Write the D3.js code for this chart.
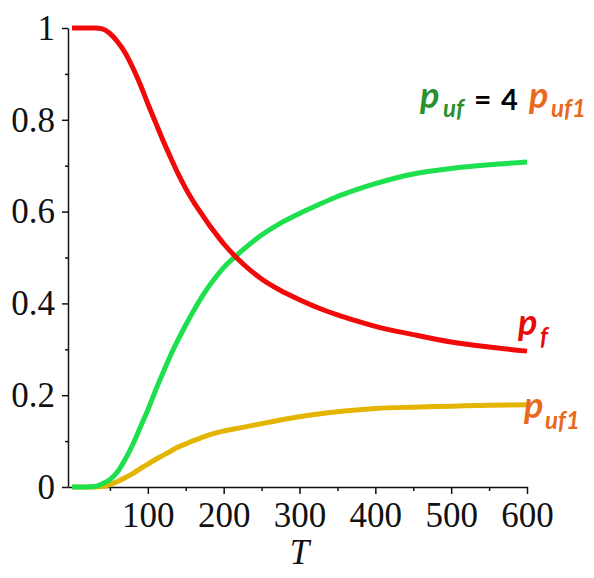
<!DOCTYPE html>
<html>
<head>
<meta charset="utf-8">
<script src="https://cdn.jsdelivr.net/npm/d3@7"></script>
<style>
  body { margin: 0; background: #fff; }
  svg { display: block; }
</style>
</head>
<body>
<svg id="chart" width="594" height="578"></svg>
<script>
// values
const tValues = [0, 10, 20, 30, 40, 50, 60, 70, 80, 90, 100, 110, 120, 130, 140, 150, 160, 170, 180, 190, 200,
                 225, 250, 275, 300, 325, 350, 375, 400, 450, 500, 550, 600];
const pf = [1, 1, 1, 1, 0.998, 0.988, 0.97, 0.946, 0.914, 0.877, 0.835, 0.795, 0.755, 0.718, 0.682, 0.65,
            0.622, 0.597, 0.573, 0.551, 0.53, 0.487, 0.453, 0.428, 0.408, 0.39, 0.375, 0.362, 0.35,
            0.332, 0.316, 0.305, 0.296];
const puf = [0, 0, 0, 0.001, 0.007, 0.016, 0.033, 0.06, 0.092, 0.13, 0.168, 0.21, 0.249, 0.287, 0.321, 0.353,
             0.383, 0.411, 0.436, 0.458, 0.478, 0.516, 0.549, 0.575, 0.596, 0.615, 0.633, 0.648, 0.661,
             0.682, 0.694, 0.702, 0.708];
const puf1 = [0, 0, 0, 0, 0.001, 0.005, 0.012, 0.02, 0.029, 0.04, 0.05, 0.06, 0.069, 0.078, 0.087, 0.094,
              0.101, 0.107, 0.113, 0.118, 0.122, 0.13, 0.138, 0.146, 0.153, 0.159, 0.164, 0.168, 0.171,
              0.174, 0.176, 0.178, 0.179];
const xMajor = [100, 200, 300, 400, 500, 600];
const xMinor = [50, 150, 250, 350, 450, 550];
const yMajor = [0, 0.2, 0.4, 0.6, 0.8, 1];
const yMinor = [0.1, 0.3, 0.5, 0.7, 0.9];

const svg = d3.select("#chart");

const x = d3.scaleLinear().domain([-5.3, 600]).range([68, 527]);
const y = d3.scaleLinear().domain([0, 1]).range([487, 28]);

// axes
const serif = "'Liberation Serif', 'DejaVu Serif', serif";

svg.append("g")
  .attr("transform", `translate(${x(-5.3)},0)`)
  .call(d3.axisLeft(y).tickValues(yMajor).tickFormat(d3.format("")).tickSize(6).tickSizeOuter(0).tickPadding(7));
svg.append("g")
  .attr("transform", `translate(${x(-5.3)},0)`)
  .call(d3.axisLeft(y).tickValues(yMinor).tickFormat("").tickSize(3).tickSizeOuter(0))
  .select(".domain").remove();

svg.append("g")
  .attr("transform", `translate(0,${y(0)})`)
  .call(d3.axisBottom(x).tickValues(xMajor).tickSize(7).tickSizeOuter(0).tickPadding(8));
svg.append("g")
  .attr("transform", `translate(0,${y(0)})`)
  .call(d3.axisBottom(x).tickValues(xMinor).tickFormat("").tickSize(4).tickSizeOuter(0))
  .select(".domain").remove();

svg.selectAll(".tick text")
  .attr("font-family", serif)
  .attr("font-size", 35)
  .attr("fill", "#111");
svg.selectAll(".domain, .tick line")
  .attr("stroke", "#111")
  .attr("stroke-width", 1.5);

svg.append("text")
  .text("T")
  .attr("x", x(300))
  .attr("y", 564)
  .attr("text-anchor", "middle")
  .attr("font-family", serif)
  .attr("font-style", "italic")
  .attr("font-size", 35)
  .attr("fill", "#111");

// curves
const line = d3.line()
  .x((d, i) => x(tValues[i]))
  .y(d => y(d))
  .curve(d3.curveMonotoneX);

const series = [
  { values: puf1, color: "#e3b400" },
  { values: puf, color: "#1ee04e" },
  { values: pf, color: "#f00a0a" }
];

svg.selectAll(".curve")
  .data(series)
  .enter().append("path")
  .attr("class", "curve")
  .attr("d", d => line(d.values))
  .attr("fill", "none")
  .attr("stroke", d => d.color)
  .attr("stroke-width", 5);

// labels, each piece placed on its own
const sans = "Lato, 'Open Sans', sans-serif";
const green = "#2a9030", orange = "#ea6a1c", red = "#e60a0a";

function piece(text, px, py, size, italic, color) {
  svg.append("text")
    .text(text)
    .attr("x", px)
    .attr("y", py)
    .attr("font-family", sans)
    .attr("font-size", size)
    .attr("font-weight", "bold")
    .attr("font-style", italic ? "italic" : "normal")
    .attr("fill", color);
}

piece("p", 420, 108, 36, true, green);
piece("uf", 443, 117, 24, true, green);
piece("=", 474, 110, 30, false, "#000");
piece("4", 501, 110, 29, false, "#000");
piece("p", 529, 108, 36, true, orange);
piece("uf1", 551, 117, 24, true, orange);

piece("p", 518, 335, 36, true, red);
piece("f", 540, 345, 24, true, red);

piece("p", 524, 418, 36, true, orange);
piece("uf1", 545, 429, 24, true, orange);
</script>
</body>
</html>
